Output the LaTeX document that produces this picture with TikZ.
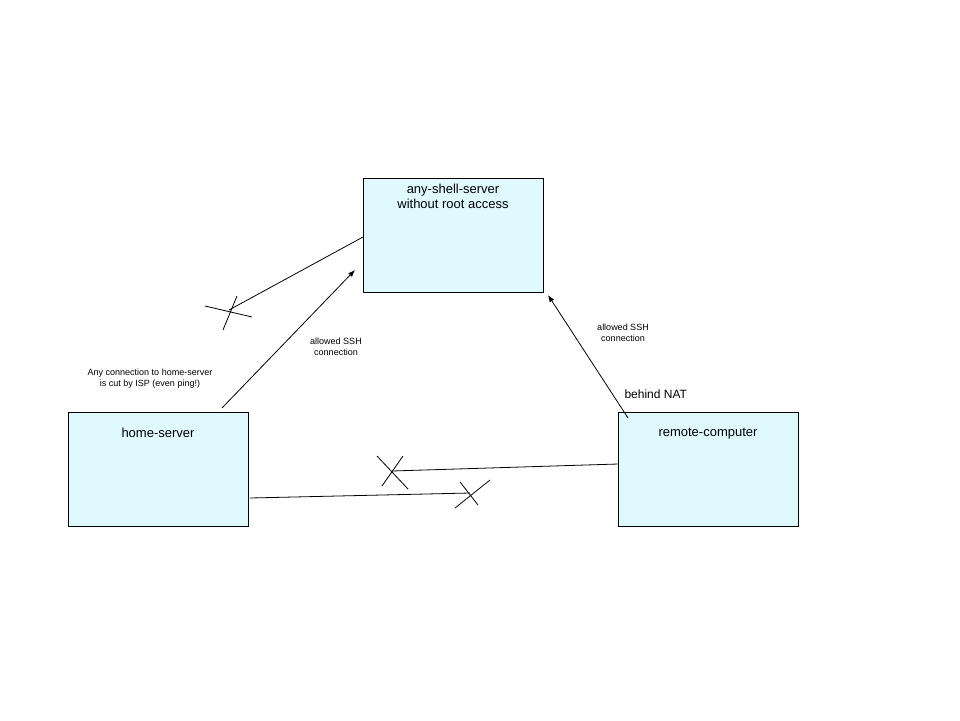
\documentclass[tikz,border=0pt]{standalone}
\usepackage{fontspec}
\setmainfont{Liberation Sans}
\usetikzlibrary{arrows.meta}
\tikzset{
    hostbox/.style={draw, thick, fill=blue!20!cyan!12, minimum width=180pt, minimum height=114pt, anchor=north west},
    title/.style={anchor=north, font=\fontsize{13}{15}\selectfont, align=center},
    small/.style={font=\fontsize{9}{11}\selectfont, align=center},
    link/.style={thick},
    cross/.style={thick}
}
\begin{document}
\begin{tikzpicture}[x=1pt, y=-1pt]
    \useasboundingbox (0,0) rectangle (960,720);

    % Rechner
    \node[hostbox] (shell) at (363,178) {};
    \node[hostbox] (home) at (68,412) {};
    \node[hostbox] (remote) at (618,412) {};
    \node[title] (shelltxt) at (453,181) {any-shell-server\\without root access};
    \node[title] (hometxt) at (158,425) {home-server};
    \node[title] (remotetxt) at (708,425) {remote-computer};

    % Endpunkte
    \coordinate (shellL) at (363,237);
    \coordinate (cutA) at (229,310);
    \coordinate (homeT) at (222,408);
    \coordinate (shellB) at (355,270);
    \coordinate (remT) at (628,418);
    \coordinate (shellC) at (548,295);
    \coordinate (remL) at (618,464);
    \coordinate (cutB) at (392,471);
    \coordinate (homeR) at (250,498);
    \coordinate (cutC) at (470,493);

    % Verbindungen
    \draw[link, -{Latex[length=7pt]}] (homeT) -- (shellB);
    \draw[link, -{Latex[length=7pt]}] (remT) -- (shellC);
    \draw[link] (shellL) -- (cutA);
    \draw[link] (remL) -- (cutB);
    \draw[link] (homeR) -- (cutC);

    % Sperren
    \draw[cross] (205,306) -- (252,317) (237,296) -- (223,330);
    \draw[cross] (377,456) -- (408,489) (382,486) -- (403,456);
    \draw[cross] (455,508) -- (490,480) (460,482) -- (478,505);

    % Beschriftungen
    \node[small] (sshA) at (336,347) {allowed SSH\\connection};
    \node[small] (sshB) at (623,333) {allowed SSH\\connection};
    \node[small] (isp) at (150,379) {Any connection to home-server\\is cut by ISP (even ping!)};
    \node[anchor=west, font=\fontsize{12}{14}\selectfont] (nat) at (621,394) {behind NAT};
\end{tikzpicture}
\end{document}
